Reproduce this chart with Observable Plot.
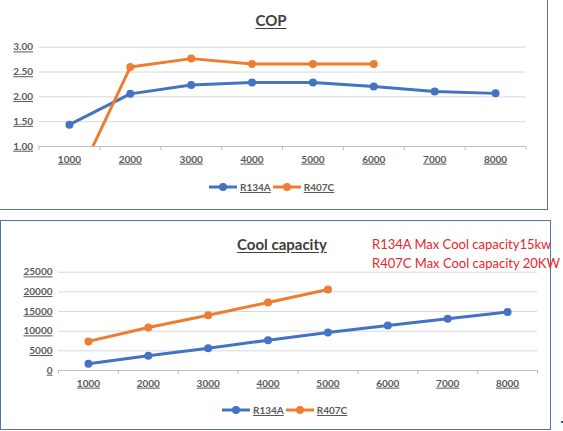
<!DOCTYPE html>
<html>
<head>
<meta charset="utf-8">
<script src="https://cdn.jsdelivr.net/npm/d3@7"></script>
<script src="https://cdn.jsdelivr.net/npm/@observablehq/plot@0.6"></script>
<style>
  body { margin: 0; background: #fff; font-family: Lato, "Open Sans", sans-serif; }
  #page { position: relative; width: 563px; height: 431px; overflow: hidden; }
  .frame { position: absolute; border: 1.5px solid #5472a2; box-sizing: border-box; }
  .title { position: absolute; width: 200px; text-align: center; font-size: 15px; line-height: 18px;
           font-weight: bold; color: #404040; text-decoration: underline; text-underline-offset: 2px; }
  .note { position: absolute; left: 372px; top: 235px; font-size: 13px; line-height: 19px; color: #e8262b; white-space: nowrap; }
  .legend { position: absolute; display: flex; align-items: center; height: 14px; font-size: 10px;
            font-weight: bold; color: #595959; }
  .legend span { text-decoration: underline; margin: 0 2px 0 3px; }
  .chart { position: absolute; left: 0; }
  .chart svg text { text-decoration: underline; }
</style>
</head>
<body>
<div id="page">
  <div class="frame" style="left:-5px; top:-5px; width:552.5px; height:215px;"></div>
  <div class="frame" style="left:0px; top:219.5px; width:550.5px; height:210px;"></div>
  <div style="position:absolute; left:561px; top:421px; width:2px; height:2px; background:#3355aa;"></div>

  <div class="title" style="left:171px; top:11px;">COP</div>
  <div class="chart" id="copChart" style="top:36px;"></div>
  <div class="legend" id="copLegend" style="left:209px; top:180px;"></div>

  <div class="title" style="left:182px; top:235px;">Cool capacity</div>
  <div class="note">R134A Max Cool capacity15kw<br>R407C Max Cool capacity 20KW</div>
  <div class="chart" id="capChart" style="top:260px;"></div>
  <div class="legend" id="capLegend" style="left:222px; top:403px;"></div>
</div>

<script>
// ---------------------------------------------------------------
//  DATA
// ---------------------------------------------------------------
const SPEEDS    = [1000, 2000, 3000, 4000, 5000, 6000, 7000, 8000];
const SERIES    = ["R134A", "R407C"];
const COLORS    = ["#4472C4", "#ED7D31"];

const COP_R134A = [1.44, 2.06, 2.24, 2.29, 2.29, 2.21, 2.11, 2.07];
const COP_R407C = [0.00, 2.60, 2.77, 2.66, 2.66, 2.66];
const COP_TICKS = [1.0, 1.5, 2.0, 2.5, 3.0];

const CAP_R134A = [1700, 3750, 5650, 7700, 9650, 11450, 13150, 14900];
const CAP_R407C = [7400, 10950, 14050, 17300, 20600];
const CAP_TICKS = [0, 5000, 10000, 15000, 20000, 25000];

// category boundaries (half a step either side of each speed)
const STEP   = SPEEDS[1] - SPEEDS[0];
const BOUNDS = [SPEEDS[0] - STEP / 2, ...SPEEDS.map(s => s + STEP / 2)];

function rows(a, b) {
  return [
    ...a.map((v, i) => ({ speed: SPEEDS[i], value: v, series: SERIES[0] })),
    ...b.map((v, i) => ({ speed: SPEEDS[i], value: v, series: SERIES[1] }))
  ];
}

// ---------------------------------------------------------------
//  CHART
// ---------------------------------------------------------------
function lineChart({ data, ticks, yFormat, width, height, margins }) {
  const [mt, mr, mb, ml] = margins;
  return Plot.plot({
    width, height,
    marginTop: mt, marginRight: mr, marginBottom: mb, marginLeft: ml,
    style: { fontFamily: "Lato, sans-serif", overflow: "visible" },
    x: { type: "linear", domain: [BOUNDS[0], BOUNDS[BOUNDS.length - 1]] },
    y: { domain: [ticks[0], ticks[ticks.length - 1]] },
    color: { domain: SERIES, range: COLORS },
    marks: [
      Plot.gridY(ticks.slice(1), { stroke: "#d9d9d9", strokeOpacity: 1 }),
      Plot.ruleY([ticks[0]], { stroke: "#bfbfbf" }),
      Plot.axisX({ ticks: BOUNDS, tickSize: 4, tickFormat: () => "", stroke: "#bfbfbf",
                   strokeOpacity: 1, label: null }),
      Plot.axisX({ ticks: SPEEDS, tickSize: 0, tickPadding: 9, tickFormat: d => String(d),
                   fontSize: 10, fontWeight: "bold", fill: "#595959", label: null }),
      Plot.axisY({ ticks, tickSize: 0, tickPadding: 6, tickFormat: yFormat,
                   fontSize: 10, fontWeight: "bold", fill: "#595959", label: null }),
      Plot.line(data, { x: "speed", y: "value", z: "series", stroke: "series",
                        strokeWidth: 3, clip: true }),
      Plot.dot(data, { x: "speed", y: "value", fill: "series", r: 4, clip: true })
    ]
  });
}

function legend(id) {
  const el = document.getElementById(id);
  SERIES.forEach((s, i) => {
    const sw = document.createElementNS("http://www.w3.org/2000/svg", "svg");
    sw.setAttribute("width", 28);
    sw.setAttribute("height", 10);
    sw.innerHTML =
      `<line x1="0" x2="28" y1="5" y2="5" stroke="${COLORS[i]}" stroke-width="3"/>` +
      `<circle cx="14" cy="5" r="4" fill="${COLORS[i]}"/>`;
    const txt = document.createElement("span");
    txt.textContent = s;
    el.appendChild(sw);
    el.appendChild(txt);
  });
}

document.getElementById("copChart").appendChild(lineChart({
  data: rows(COP_R134A, COP_R407C),
  ticks: COP_TICKS,
  yFormat: d3.format(".2f"),
  width: 547, height: 140,
  margins: [10.7, 21.5, 30, 38.5]
}));

document.getElementById("capChart").appendChild(lineChart({
  data: rows(CAP_R134A, CAP_R407C),
  ticks: CAP_TICKS,
  yFormat: d => String(d),
  width: 549, height: 150,
  margins: [11.7, 12, 40, 58]
}));

legend("copLegend");
legend("capLegend");
</script>
</body>
</html>
